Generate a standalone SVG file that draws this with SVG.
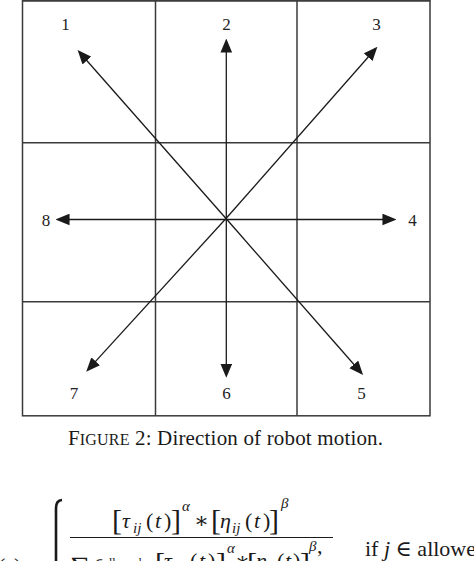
<svg xmlns="http://www.w3.org/2000/svg" width="474" height="561" viewBox="0 0 474 561">
<defs>
<style>
.grid{stroke:#3a3a3a;stroke-width:1.5;fill:none}
.arr{stroke:#1a1a1a;stroke-width:1.3;fill:none;marker-end:url(#ah)}
.lbl{font-family:"Liberation Serif","DejaVu Serif",serif;font-size:17px;fill:#222;text-anchor:middle}
.m{font-family:"Liberation Serif","DejaVu Serif",serif;font-size:22px;fill:#1a1a1a}
.i{font-style:italic}
.s{font-size:15px}
.b{font-size:30px}
.cap{font-family:"Liberation Serif","DejaVu Serif",serif;font-size:21px;fill:#1a1a1a}
</style>
<marker id="ah" markerUnits="userSpaceOnUse" markerWidth="14" markerHeight="12" viewBox="0 0 12 10" refX="5" refY="5" orient="auto">
<path d="M0,0 L12,5 L0,10 z" fill="#1a1a1a"/>
</marker>
</defs>
<rect width="474" height="561" fill="#fff"/>
<g id="grid">
<line x1="22" y1="0.8" x2="430.5" y2="0.8" stroke="#888" stroke-width="1.8"/>
<rect class="grid" x="22.5" y="0.8" width="407.5" height="415"/>
<line class="grid" x1="155.5" y1="0" x2="155.5" y2="415.8"/>
<line class="grid" x1="297" y1="0" x2="297" y2="415.8"/>
<line class="grid" x1="22.5" y1="142.7" x2="430" y2="142.7"/>
<line class="grid" x1="22.5" y1="301.7" x2="430" y2="301.7"/>
</g>
<g id="connectors">
<line class="arr" x1="226" y1="218.5" x2="83" y2="56.2"/>
<line class="arr" x1="226.3" y1="218.5" x2="226.3" y2="46.7"/>
<line class="arr" x1="226" y1="218.5" x2="372" y2="52.8"/>
<line class="arr" x1="226" y1="219.5" x2="388.3" y2="219.5"/>
<line class="arr" x1="226" y1="218.5" x2="357.7" y2="368.8"/>
<line class="arr" x1="226.3" y1="218.5" x2="226.3" y2="369.7"/>
<line class="arr" x1="226" y1="218.5" x2="91.7" y2="365.6"/>
<line class="arr" x1="226" y1="219.5" x2="63.7" y2="219.5"/>
</g>
<g id="n1"><text class="lbl" x="65.5" y="30">1</text></g>
<g id="n2"><text class="lbl" x="226.5" y="30">2</text></g>
<g id="n3"><text class="lbl" x="376.5" y="30">3</text></g>
<g id="n4"><text class="lbl" x="412.5" y="226">4</text></g>
<g id="n5"><text class="lbl" x="361.5" y="399">5</text></g>
<g id="n6"><text class="lbl" x="226.5" y="399">6</text></g>
<g id="n7"><text class="lbl" x="74" y="399">7</text></g>
<g id="n8"><text class="lbl" x="46" y="226">8</text></g>
<g id="caption">
<text class="cap" x="68" y="445" textLength="315" lengthAdjust="spacing">F<tspan style="font-size:16px">IGURE</tspan> 2: Direction of robot motion.</text>
</g>
<g id="formula">
<text class="m" x="-2" y="573">(</text><text class="m i" x="8" y="573">t</text><text class="m" x="14" y="573">)</text>
<path d="M62,500 Q56,500.5 56,508 L56,561" stroke="#1a1a1a" stroke-width="2.6" fill="none"/>
<text class="m b" x="112" y="530">[</text>
<text class="m i" x="122" y="528">τ</text>
<text class="m i s" x="133" y="533">ij</text>
<text class="m" x="146" y="528">(</text><text class="m i" x="155" y="528">t</text><text class="m" x="164" y="528">)</text>
<text class="m b" x="171" y="530">]</text>
<text class="m i s" x="182" y="511">α</text>
<text class="m" x="194" y="528">∗</text>
<text class="m b" x="211" y="530">[</text>
<text class="m i" x="220" y="528">η</text>
<text class="m i s" x="232" y="533">ij</text>
<text class="m" x="245" y="528">(</text><text class="m i" x="254" y="528">t</text><text class="m" x="263" y="528">)</text>
<text class="m b" x="269" y="530">]</text>
<text class="m i s" x="281" y="508">β</text>
<line x1="70" y1="537.5" x2="333" y2="537.5" stroke="#1a1a1a" stroke-width="1.1"/>
<text class="m" x="70" y="576" style="font-size:28px">∑</text>
<text class="m" x="90" y="567" style="font-size:12px"><tspan class="i">s</tspan>∈allowed</text>
<text class="m i" x="141" y="570" style="font-size:9px">k</text>
<text class="m b" x="155" y="573">[</text>
<text class="m i" x="164" y="568">τ</text>
<text class="m i s" x="176" y="573">is</text>
<text class="m" x="190" y="568">(</text><text class="m i" x="199" y="568">t</text><text class="m" x="208" y="568">)</text>
<text class="m b" x="216" y="573">]</text>
<text class="m i s" x="227" y="553">α</text>
<text class="m" x="235" y="568">∗</text>
<text class="m b" x="247" y="573">[</text>
<text class="m i" x="256" y="568">η</text>
<text class="m i s" x="267" y="573">is</text>
<text class="m" x="277" y="568">(</text><text class="m i" x="285" y="568">t</text><text class="m" x="293" y="568">)</text>
<text class="m b" x="300" y="573">]</text>
<text class="m i s" x="309" y="551">β</text>
<text class="m" x="317" y="553">,</text>
<text class="m" x="365" y="556">if <tspan class="i">j</tspan> ∈ allowed</text>
</g>
</svg>
